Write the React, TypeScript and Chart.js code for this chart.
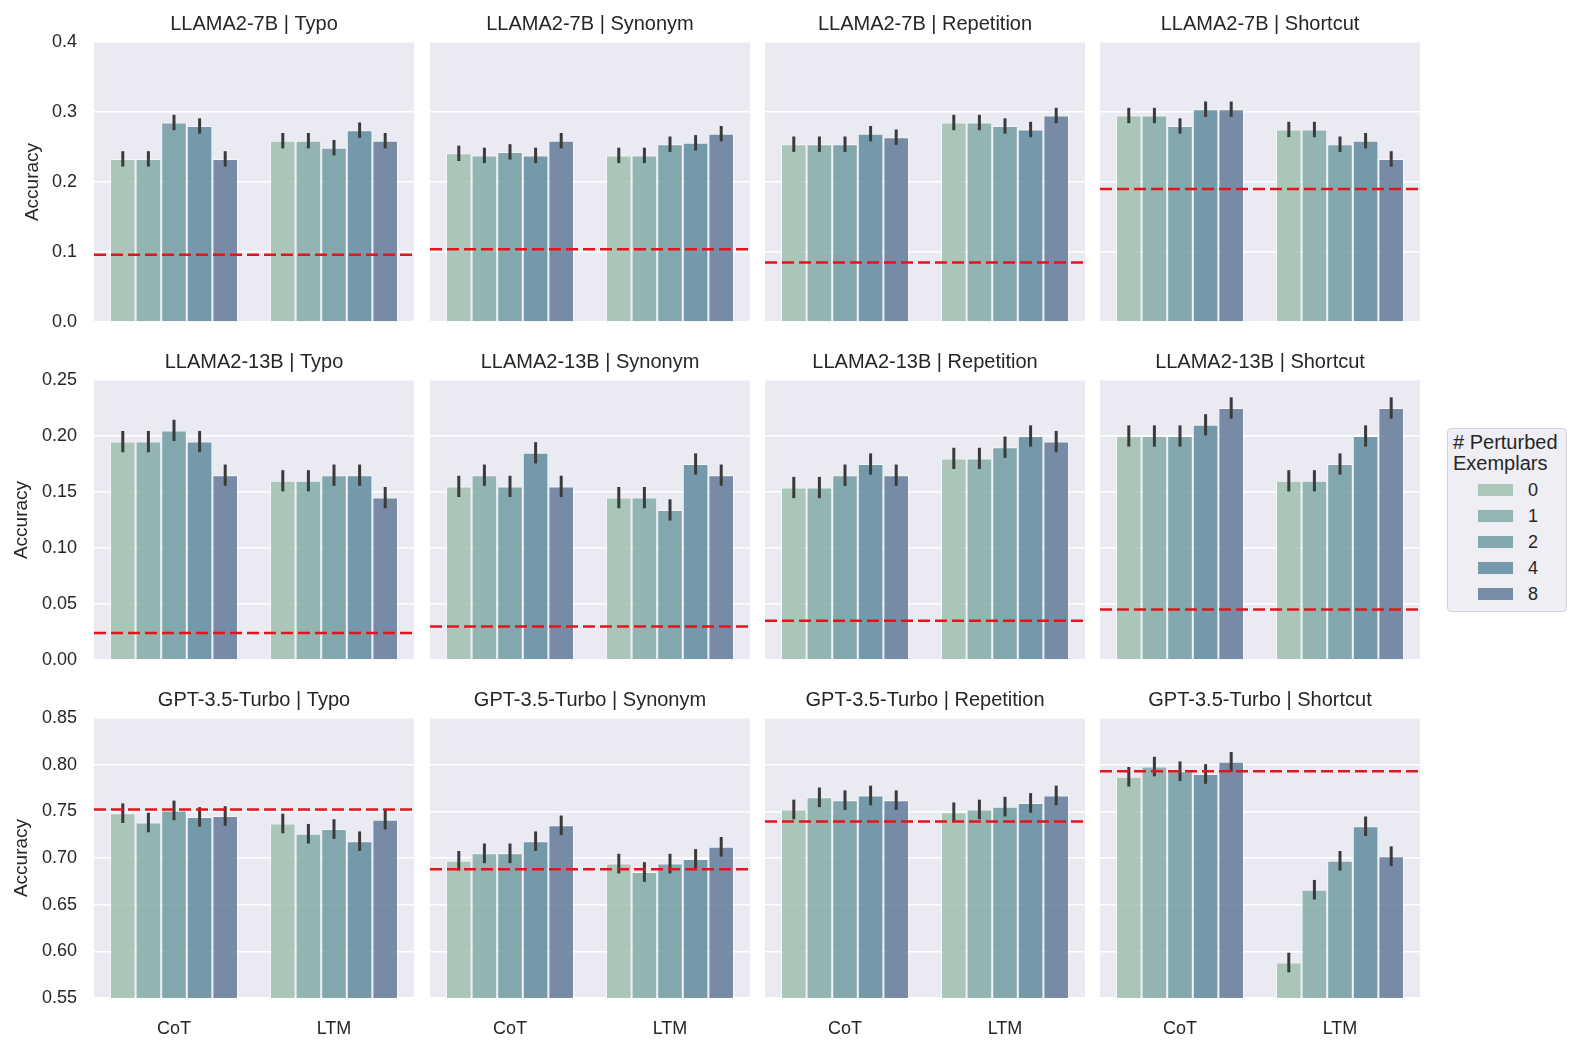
import { useEffect, useRef } from "react";
import { Chart, registerables } from "chart.js";

Chart.register(...registerables);

Chart.defaults.font.family = '"Liberation Sans", Arial, sans-serif';
Chart.defaults.color = "#262626";

// ---- data ----
const categories = ["CoT", "LTM"];
const exemplarCounts = ["0", "1", "2", "4", "8"];
const models = ["LLAMA2-7B", "LLAMA2-13B", "GPT-3.5-Turbo"];
const perturbations = ["Typo", "Synonym", "Repetition", "Shortcut"];

// LLAMA2-7B
const llama7bTypoCoT = [0.233, 0.233, 0.285, 0.28, 0.233];
const llama7bTypoLTM = [0.259, 0.259, 0.249, 0.274, 0.259];
const llama7bSynonymCoT = [0.241, 0.238, 0.243, 0.238, 0.259];
const llama7bSynonymLTM = [0.238, 0.238, 0.254, 0.256, 0.269];
const llama7bRepetitionCoT = [0.254, 0.254, 0.254, 0.269, 0.264];
const llama7bRepetitionLTM = [0.285, 0.285, 0.28, 0.275, 0.295];
const llama7bShortcutCoT = [0.295, 0.295, 0.28, 0.304, 0.304];
const llama7bShortcutLTM = [0.275, 0.275, 0.254, 0.259, 0.233];
const llama7bBaseline = [0.096, 0.104, 0.085, 0.19];

// LLAMA2-13B
const llama13bTypoCoT = [0.195, 0.195, 0.205, 0.195, 0.165];
const llama13bTypoLTM = [0.16, 0.16, 0.165, 0.165, 0.145];
const llama13bSynonymCoT = [0.155, 0.165, 0.155, 0.185, 0.155];
const llama13bSynonymLTM = [0.145, 0.145, 0.134, 0.175, 0.165];
const llama13bRepetitionCoT = [0.154, 0.154, 0.165, 0.175, 0.165];
const llama13bRepetitionLTM = [0.18, 0.18, 0.19, 0.2, 0.195];
const llama13bShortcutCoT = [0.2, 0.2, 0.2, 0.21, 0.225];
const llama13bShortcutLTM = [0.16, 0.16, 0.175, 0.2, 0.225];
const llama13bBaseline = [0.024, 0.03, 0.035, 0.045];

// GPT-3.5-Turbo
const gptTypoCoT = [0.748, 0.738, 0.751, 0.744, 0.745];
const gptTypoLTM = [0.737, 0.726, 0.731, 0.718, 0.741];
const gptSynonymCoT = [0.697, 0.705, 0.705, 0.718, 0.735];
const gptSynonymLTM = [0.694, 0.685, 0.694, 0.699, 0.712];
const gptRepetitionCoT = [0.752, 0.765, 0.762, 0.767, 0.762];
const gptRepetitionLTM = [0.749, 0.752, 0.755, 0.759, 0.767];
const gptShortcutCoT = [0.787, 0.798, 0.793, 0.79, 0.803];
const gptShortcutLTM = [0.588, 0.666, 0.697, 0.734, 0.702];
const gptBaseline = [0.752, 0.688, 0.739, 0.793];

// half-length of the error bars, per model
const errorHalfWidth = [0.011, 0.0095, 0.0105];

// y tick values per model row
const llama7bTicks = [0, 0.1, 0.2, 0.3, 0.4];
const llama13bTicks = [0, 0.05, 0.1, 0.15, 0.2, 0.25];
const gptTicks = [0.55, 0.6, 0.65, 0.7, 0.75, 0.8, 0.85];
const tickDecimals = [1, 2, 2];

const panelValues = [
  [
    [llama7bTypoCoT, llama7bTypoLTM],
    [llama7bSynonymCoT, llama7bSynonymLTM],
    [llama7bRepetitionCoT, llama7bRepetitionLTM],
    [llama7bShortcutCoT, llama7bShortcutLTM],
  ],
  [
    [llama13bTypoCoT, llama13bTypoLTM],
    [llama13bSynonymCoT, llama13bSynonymLTM],
    [llama13bRepetitionCoT, llama13bRepetitionLTM],
    [llama13bShortcutCoT, llama13bShortcutLTM],
  ],
  [
    [gptTypoCoT, gptTypoLTM],
    [gptSynonymCoT, gptSynonymLTM],
    [gptRepetitionCoT, gptRepetitionLTM],
    [gptShortcutCoT, gptShortcutLTM],
  ],
];
const baselines = [llama7bBaseline, llama13bBaseline, gptBaseline];
const rowTicks = [llama7bTicks, llama13bTicks, gptTicks];

// ---- styling ----
const barColors = [
  "rgba(158,192,174,0.85)",
  "rgba(130,172,167,0.85)",
  "rgba(112,156,161,0.85)",
  "rgba(94,139,157,0.85)",
  "rgba(100,122,153,0.85)",
];
const TEXT = "#262626";
const FONT = '"Liberation Sans", Arial, sans-serif';

const colLeft = [94, 430, 765, 1100];
const rowTop = [42, 380, 718];
const PLOT_W = 320;
const PLOT_H = 280;
const TITLE_SPACE = 34;
const AXIS_W = 94;

// background, subplot title, error bars and the red baseline
const panelPlugin = {
  id: "panel",
  beforeDraw(chart: any, _args: any, opts: any) {
    const { ctx, chartArea: a } = chart;
    ctx.save();
    ctx.fillStyle = "#eaeaf2";
    ctx.fillRect(a.left, a.top, a.width, a.height);
    ctx.fillStyle = TEXT;
    ctx.font = `20px ${FONT}`;
    ctx.textAlign = "center";
    ctx.textBaseline = "middle";
    ctx.fillText(opts.title, (a.left + a.right) / 2, a.top - 18);
    ctx.restore();
  },
  afterDatasetsDraw(chart: any, _args: any, opts: any) {
    const { ctx, chartArea: a, scales } = chart;
    const y = scales.y;
    ctx.save();
    ctx.strokeStyle = "#3a3a3a";
    ctx.lineWidth = 3;
    chart.data.datasets.forEach((ds: any, i: number) => {
      const meta = chart.getDatasetMeta(i);
      meta.data.forEach((bar: any, j: number) => {
        const v = ds.data[j];
        ctx.beginPath();
        ctx.moveTo(bar.x, y.getPixelForValue(v - opts.err));
        ctx.lineTo(bar.x, y.getPixelForValue(v + opts.err));
        ctx.stroke();
      });
    });
    const by = y.getPixelForValue(opts.baseline);
    ctx.strokeStyle = "#e3141c";
    ctx.lineWidth = 2.5;
    ctx.setLineDash([12, 5]);
    ctx.beginPath();
    ctx.moveTo(a.left, by);
    ctx.lineTo(a.right, by);
    ctx.stroke();
    ctx.restore();
  },
};

function Panel({ row, col }: { row: number; col: number }) {
  const canvasRef = useRef<HTMLCanvasElement | null>(null);
  const isLeft = col === 0;
  const isBottom = row === 2;
  // room below the plot: x tick labels on the last row, tick-label overflow elsewhere
  const bottomSpace = isBottom ? 45 : 30;
  const width = (isLeft ? AXIS_W : 0) + PLOT_W;
  const height = TITLE_SPACE + PLOT_H + bottomSpace;
  const left = isLeft ? 0 : colLeft[col];
  const top = rowTop[row] - TITLE_SPACE;

  useEffect(() => {
    if (!canvasRef.current) return;
    const [cot, ltm] = panelValues[row][col];
    const ticks = rowTicks[row];

    const chart = new Chart(canvasRef.current, {
      type: "bar",
      data: {
        labels: categories,
        datasets: exemplarCounts.map((count, i) => ({
          label: count,
          data: [cot[i], ltm[i]],
          backgroundColor: barColors[i],
          borderColor: "rgba(255,255,255,0.55)",
          borderWidth: 1,
          categoryPercentage: 0.8,
          barPercentage: 1,
        })),
      },
      options: {
        responsive: false,
        animation: false,
        layout: { padding: { top: TITLE_SPACE, bottom: isBottom ? 0 : bottomSpace, left: 0, right: 0 } },
        plugins: {
          legend: { display: false },
          tooltip: { enabled: false },
          panel: {
            title: `${models[row]} | ${perturbations[col]}`,
            err: errorHalfWidth[row],
            baseline: baselines[row][col],
          },
        } as any,
        scales: {
          x: {
            display: isBottom,
            grid: { display: false },
            border: { display: false },
            ticks: { color: TEXT, font: { size: 18 }, padding: 12 },
            afterFit: (s: any) => {
              s.height = isBottom ? bottomSpace : 0;
            },
          },
          y: {
            min: ticks[0],
            max: ticks[ticks.length - 1],
            afterBuildTicks: (s: any) => {
              s.ticks = ticks.map((v) => ({ value: v }));
            },
            grid: { color: "#ffffff", lineWidth: 1.5, drawTicks: false },
            border: { display: false },
            ticks: {
              display: isLeft,
              padding: 17,
              color: TEXT,
              font: { size: 18 },
              callback: (v: any) => Number(v).toFixed(tickDecimals[row]),
            },
            title: {
              display: isLeft,
              text: "Accuracy",
              color: TEXT,
              font: { size: 19 },
              padding: { top: row === 0 ? 21 : 10, bottom: 0 },
            },
            afterFit: (s: any) => {
              s.width = isLeft ? AXIS_W : 0;
            },
          },
        },
      } as any,
      plugins: [panelPlugin],
    });

    return () => {
      chart.destroy();
    };
  }, [row, col]);

  return (
    <div style={{ position: "absolute", left, top, width, height }}>
      <canvas ref={canvasRef} width={width} height={height}></canvas>
    </div>
  );
}

function Legend() {
  return (
    <div
      style={{
        position: "absolute",
        left: 1447,
        top: 428,
        width: 120,
        height: 184,
        boxSizing: "border-box",
        background: "#eeeef4",
        border: "1px solid #d2d2d8",
        borderRadius: 4,
        fontFamily: FONT,
        color: TEXT,
      }}
    >
      <div
        style={{
          position: "absolute",
          left: 5,
          top: 3,
          fontSize: 20,
          lineHeight: "21px",
          whiteSpace: "pre",
        }}
      >
        {"# Perturbed\nExemplars"}
      </div>
      {exemplarCounts.map((count, i) => (
        <div
          key={count}
          style={{
            position: "absolute",
            left: 0,
            top: 48 + i * 26,
            height: 26,
            display: "flex",
            alignItems: "center",
          }}
        >
          <div style={{ marginLeft: 30, width: 35, height: 12, background: barColors[i] }} />
          <div style={{ marginLeft: 15, fontSize: 18 }}>{count}</div>
        </div>
      ))}
    </div>
  );
}

export default function App() {
  return (
    <div style={{ position: "absolute", left: 0, top: 0, width: 1581, height: 1047, background: "#ffffff" }}>
      {models.map((_, row) =>
        perturbations.map((_, col) => <Panel key={`${row}-${col}`} row={row} col={col} />)
      )}
      <Legend />
    </div>
  );
}
